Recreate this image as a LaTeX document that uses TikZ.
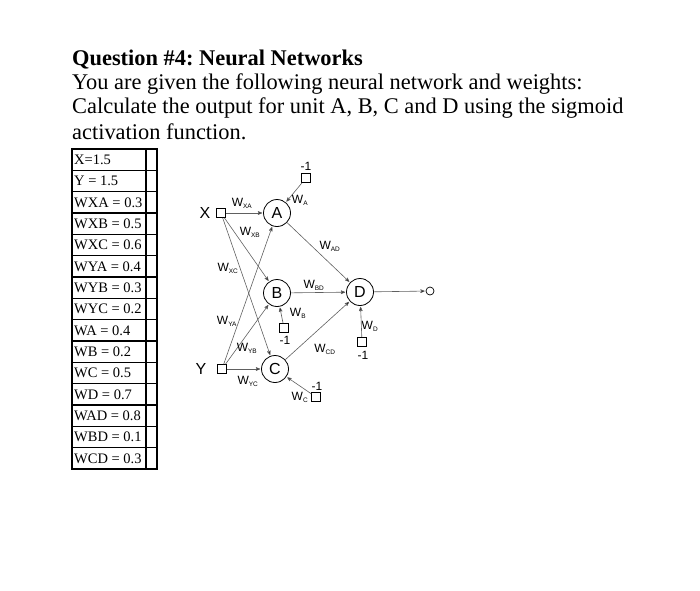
\documentclass[tikz,border=0pt]{standalone}
\usepackage{fontspec}
\setmainfont{Liberation Serif}
\setsansfont{Liberation Sans}
\usetikzlibrary{arrows}
\frenchspacing

\newcommand{\wt}[1]{W\textsubscript{\fontsize{6.5}{6.5}\selectfont #1}}

\begin{document}
\begin{tikzpicture}[x=1pt,y=-1pt,>=stealth',shorten >=1pt,
  conn/.style={->,draw=gray!75!black,line width=0.6pt},
  unit node/.style={circle,draw,line width=0.8pt,minimum size=27pt,inner sep=0pt,
    font=\sffamily\fontsize{16}{16}\selectfont},
  in node/.style={rectangle,draw,line width=0.7pt,minimum size=9pt,inner sep=0pt},
  wlabel/.style={font=\sffamily\fontsize{12}{12}\selectfont,inner sep=0pt},
  text line/.style={anchor=base west,inner sep=0pt,font=\fontsize{22.4}{24}\selectfont},
  cell/.style={anchor=west,inner sep=0pt,font=\fontsize{14.5}{16}\selectfont}]

  \useasboundingbox (0,0) rectangle (700,590);

  % question text
  \node[text line,font=\bfseries\fontsize{22.4}{24}\selectfont] (title) at (72,65) {Question \#4: Neural Networks};
  \node[text line] (line1) at (72,89) {You are given the following neural network and weights:};
  \node[text line] (line2) at (72,113) {Calculate the output for unit A, B, C and D using the sigmoid};
  \node[text line] (line3) at (72,139) {activation function.};

  % table of values
  \foreach \t [count=\i] in {X=1.5,Y = 1.5,WXA = 0.3,WXB = 0.5,WXC = 0.6,WYA = 0.4,
      WYB = 0.3,WYC = 0.2,WA = 0.4,WB = 0.2,WC = 0.5,WD = 0.7,WAD = 0.8,WBD = 0.1,WCD = 0.3} {
    \draw[line width=1.2pt] (72,127.667+21.333*\i) rectangle (146,149+21.333*\i);
    \draw[line width=1.2pt] (146,127.667+21.333*\i) rectangle (157,149+21.333*\i);
    \node[cell] (row\i) at (74,138.33+21.333*\i) {\t};
  }

  % network
  \node[in node] (x) at (221,213) {};
  \node[in node] (y) at (222,369) {};
  \node[font=\sffamily\fontsize{16}{16}\selectfont] (xl) at (205,213) {X};
  \node[font=\sffamily\fontsize{16}{16}\selectfont] (yl) at (201,369) {Y};

  \node[unit node] (a) at (277,213) {A};
  \node[unit node] (b) at (277,293) {B};
  \node[unit node] (c) at (275,369) {C};
  \node[unit node] (d) at (360,292) {D};
  \node[circle,draw,line width=0.7pt,minimum size=8pt,inner sep=0pt] (out) at (430,291) {};

  \node[in node] (ba) at (306,178) {};
  \node[in node] (bb) at (284,328) {};
  \node[in node] (bc) at (316,397) {};
  \node[in node] (bd) at (362,342) {};
  \node[wlabel] (ma) at (306,166) {-1};
  \node[wlabel] (mb) at (285,340) {-1};
  \node[wlabel] (mc) at (317,386) {-1};
  \node[wlabel] (md) at (363,355) {-1};

  \path[conn]
    (x) edge (a) edge (b) edge (c)
    (y) edge (a) edge (b) edge (c)
    (ba) edge (a)
    (bb) edge (b)
    (bc) edge (c)
    (a) edge (d)
    (b) edge (d)
    (c) edge (d)
    (bd) edge (d)
    (d) edge (out);

  % weights
  \node[wlabel] (wxa) at (242,203) {\wt{XA}};
  \node[wlabel] (wxb) at (250,232) {\wt{XB}};
  \node[wlabel] (wxc) at (228,268) {\wt{XC}};
  \node[wlabel] (wya) at (227,321) {\wt{YA}};
  \node[wlabel] (wyb) at (247,348) {\wt{YB}};
  \node[wlabel] (wyc) at (248,381) {\wt{YC}};
  \node[wlabel] (wa) at (300,200) {\wt{A}};
  \node[wlabel] (wb) at (298,313) {\wt{B}};
  \node[wlabel] (wc) at (300,397) {\wt{C}};
  \node[wlabel] (wad) at (330,246) {\wt{AD}};
  \node[wlabel] (wbd) at (314,285) {\wt{BD}};
  \node[wlabel] (wcd) at (325,349) {\wt{CD}};
  \node[wlabel] (wd) at (370,326) {\wt{D}};
\end{tikzpicture}
\end{document}
